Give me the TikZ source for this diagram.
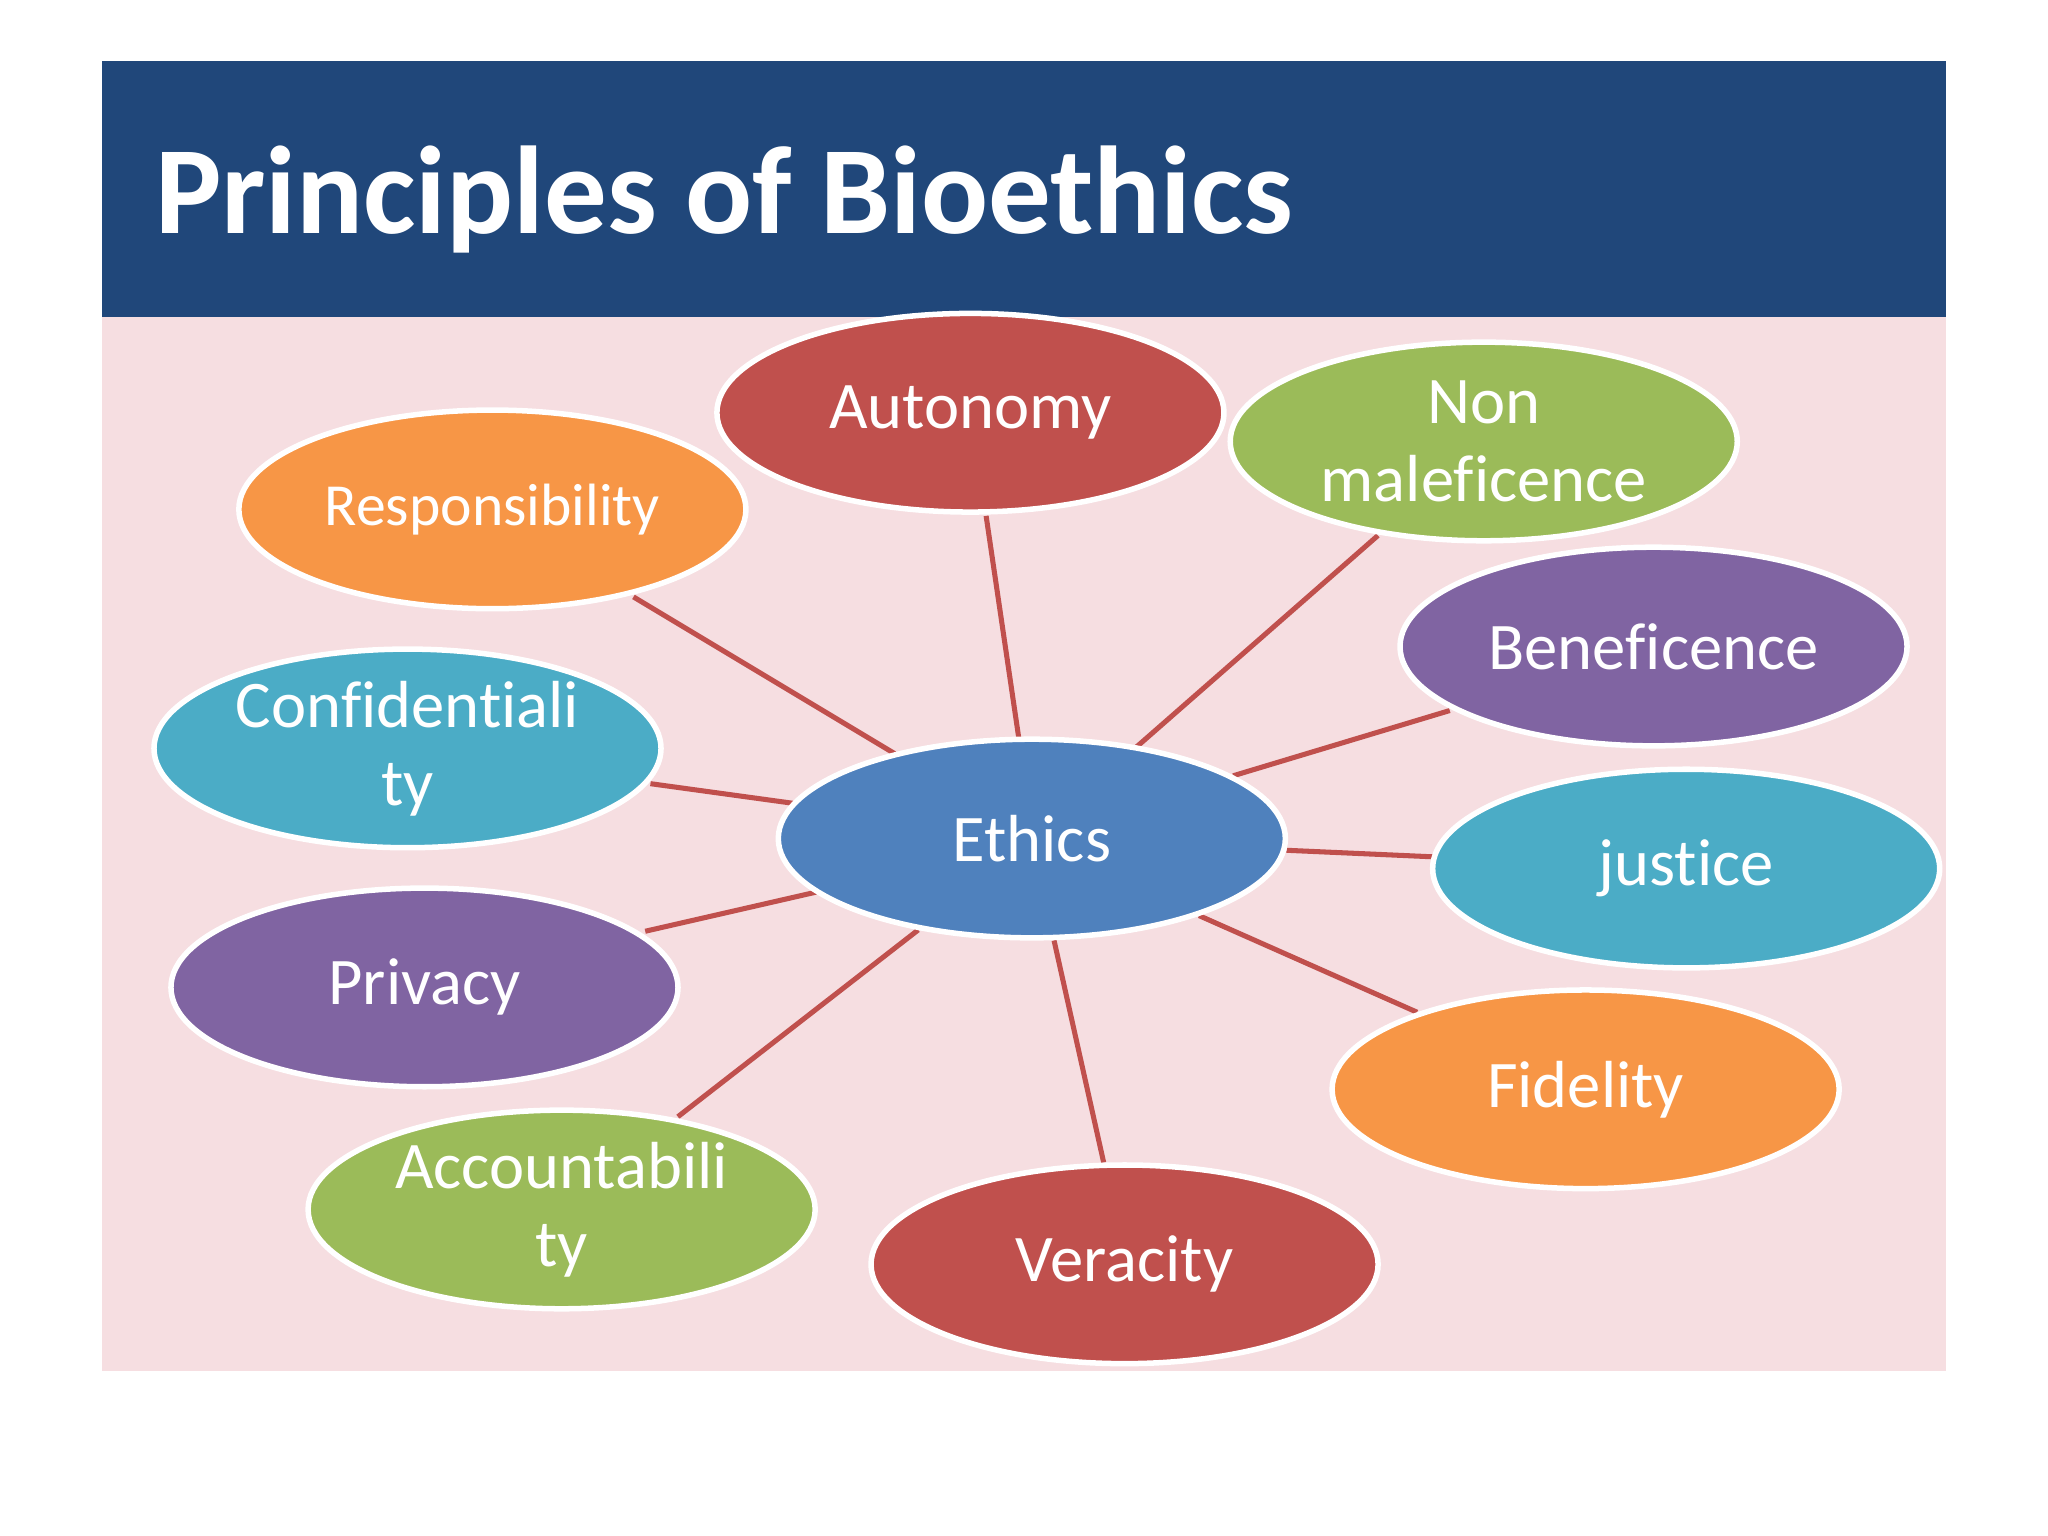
\documentclass[tikz,border=0pt]{standalone}
\usepackage{fontspec}
\setmainfont{Carlito}[Ligatures=NoCommon]
\usetikzlibrary{shapes.geometric}
\definecolor{hdr}{HTML}{20477A}
\definecolor{bgp}{HTML}{F6DEE1}
\definecolor{cred}{HTML}{C0504D}
\definecolor{cgreen}{HTML}{9BBB59}
\definecolor{cpurple}{HTML}{8064A2}
\definecolor{caqua}{HTML}{4BACC6}
\definecolor{corange}{HTML}{F79646}
\definecolor{cblue}{HTML}{4F81BD}
\tikzset{
  bub/.style={ellipse,draw=white,line width=1.2pt,minimum width=3.88cm,minimum height=1.52cm,inner sep=0pt,text=white,align=center,font=\fontsize{14.5}{17}\selectfont},
  link/.style={draw=cred,line width=1.1pt}
}
\begin{document}
\begin{tikzpicture}[x=0.01cm,y=-0.01cm]
\useasboundingbox (0,0) rectangle (1568,1176);
\fill[white] (0,0) rectangle (1568,1176);
\fill[bgp] (78,243) rectangle (1490,1050);
\fill[hdr] (78,47) rectangle (1490,243);
\node[anchor=base west,text=white,font=\fontsize{27.2}{33}\selectfont\bfseries,inner sep=0pt] (title) at (118,179) {Principles of Bioethics};
% connectors
\foreach \a/\b/\c/\d/\n in {755/395/780/565/1,1055/410/870/572/2,485/457/685/577/3,1110/544/944/594/4,498/600/607/615/5,985/651/1097/656/6,494/713/625/683/7,918/701/1085/775/8,519/855/703/712/9,807/720/845/890/10}{
  \coordinate (p\n) at (\a,\b);
  \coordinate (q\n) at (\c,\d);
  \draw[link] (p\n) -- (q\n);
}
\node[bub,fill=cred] (aut) at (743,316) {Autonomy};
\node[bub,fill=cgreen] (non) at (1136,338) {Non\\maleficence};
\node[bub,fill=corange,font=\fontsize{13}{16}\selectfont] (res) at (377,390) {Responsibility};
\node[bub,fill=cpurple] (ben) at (1266,495) {Beneficence};
\node[bub,fill=caqua] (con) at (312,573) {Confidentiali\\ty};
\node[bub,fill=cblue] (eth) at (790,642) {Ethics};
\node[bub,fill=caqua] (jus) at (1291,665) {justice};
\node[bub,fill=cpurple] (pri) at (325,756) {Privacy};
\node[bub,fill=corange] (fid) at (1214,834) {Fidelity};
\node[bub,fill=cgreen] (acc) at (430,926) {Accountabili\\ty};
\node[bub,fill=cred] (ver) at (861,968) {Veracity};
\end{tikzpicture}
\end{document}
